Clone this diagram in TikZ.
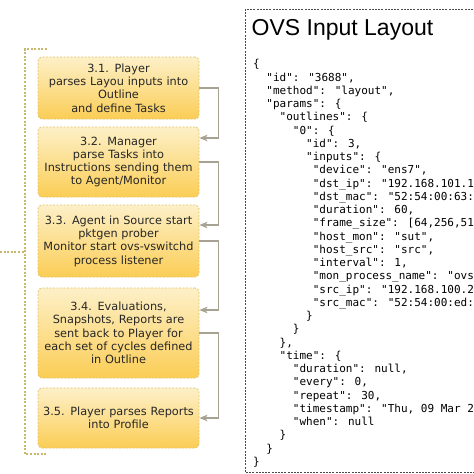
\documentclass[tikz,border=0pt]{standalone}
\usepackage{fontspec}
\setmainfont{DejaVu Sans}
\newfontfamily\boxfont{DejaVu Sans}
\newfontfamily\jsonfont{DejaVu Sans Mono}
\newfontfamily\titlefont{Liberation Sans}
\usetikzlibrary{arrows.meta,calc}
\definecolor{boxtop}{HTML}{FDF0C8}
\definecolor{boxbot}{HTML}{FBCD55}
\definecolor{boxline}{HTML}{E2C46E}
\definecolor{conn}{HTML}{A8A292}
\definecolor{bracket}{HTML}{C8B86C}
\definecolor{panel}{HTML}{4A4A4A}
\definecolor{boxtext}{HTML}{262626}
\newcommand\jl[3]{\node[json] (j#1) at ({253+#2*6.62},{67.75+#1*13.25}) {#3};}
\begin{document}
\begin{tikzpicture}[x=1pt,y=-1pt,
  stepbox/.style={draw=boxline, line width=0.8pt, dash pattern=on 2pt off 1.5pt,
    rounded corners=4pt, top color=boxtop, bottom color=boxbot,
    minimum width=161pt, text width=158pt, align=center, inner sep=0pt,
    text=boxtext, font=\boxfont\fontsize{11.3}{13.3}\selectfont},
  connector/.style={draw=conn, line width=1.4pt, -{Stealth[length=8pt,width=6.5pt,inset=2pt]}},
  bracketline/.style={draw=bracket, line width=2pt, dash pattern=on 2pt off 1.6pt},
  panelline/.style={draw=panel, line width=0.8pt, dash pattern=on 2pt off 1.2pt},
  json/.style={anchor=base west, inner sep=0pt, text=black, font=\jsonfont\fontsize{11}{13}\selectfont}]
\useasboundingbox (0,0) rectangle (474,474);
\fill[white] (0,0) rectangle (474,474);

% left bracket
\coordinate (bt) at (47,49);
\coordinate (btl) at (25,49);
\coordinate (bbl) at (25,454);
\coordinate (bb) at (46,454);
\coordinate (bm) at (25,252);
\coordinate (bo) at (0,252);
\draw[bracketline] (bt) -- (btl) -- (bbl) -- (bb);
\draw[bracketline] (bo) -- (bm);

% step boxes
\node[stepbox, minimum height=62pt] (b1) at (118.5,88) {3.1. Player\\parses Layou inputs into\\Outline\\and define Tasks};
\node[stepbox, minimum height=70pt] (b2) at (118.5,162) {3.2. Manager\\parse Tasks into\\Instructions sending them\\to Agent/Monitor};
\node[stepbox, minimum height=72pt] (b3) at (118.5,241) {3.3. Agent in Source start\\pktgen prober\\Monitor start ovs-vswitchd\\process listener};
\node[stepbox, minimum height=90pt] (b4) at (118.5,333) {3.4. Evaluations,\\Snapshots, Reports are\\sent back to Player for\\each set of cycles defined\\in Outline};
\node[stepbox, minimum height=60pt] (b5) at (118.5,418) {3.5. Player parses Reports\\into Profile};

% connectors
\draw[connector] (b1.east) -- ++(19,0) |- ([yshift=24pt]b2.east);
\draw[connector] (b2.east) -- ++(19,0) |- ([yshift=16pt]b3.east);
\draw[connector] (b3.east) -- ++(19,0) |- ([yshift=23pt]b4.east);
\draw[connector] (b4.east) -- ++(19,0) |- (b5.east);

% right panel
\draw[panelline] (245,9) rectangle (480,472);
\node[anchor=base west, inner sep=0pt, font=\titlefont\fontsize{23}{26}\selectfont] (title) at (251.5,35) {OVS Input Layout};

\jl{0}{0}{\{}
\jl{1}{2}{"id": "3688",}
\jl{2}{2}{"method": "layout",}
\jl{3}{2}{"params": \{}
\jl{4}{4}{"outlines": \{}
\jl{5}{6}{"0": \{}
\jl{6}{8}{"id": 3,}
\jl{7}{8}{"inputs": \{}
\jl{8}{9}{"device": "ens7",}
\jl{9}{9}{"dst\_ip": "192.168.101.1}
\jl{10}{9}{"dst\_mac": "52:54:00:63:}
\jl{11}{9}{"duration": 60,}
\jl{12}{9}{"frame\_size": [64,256,51}
\jl{13}{9}{"host\_mon": "sut",}
\jl{14}{9}{"host\_src": "src",}
\jl{15}{9}{"interval": 1,}
\jl{16}{9}{"mon\_process\_name": "ovs}
\jl{17}{9}{"src\_ip": "192.168.100.2}
\jl{18}{9}{"src\_mac": "52:54:00:ed:}
\jl{19}{8}{\}}
\jl{20}{6}{\}}
\jl{21}{4}{\},}
\jl{22}{4}{"time": \{}
\jl{23}{6}{"duration": null,}
\jl{24}{6}{"every": 0,}
\jl{25}{6}{"repeat": 30,}
\jl{26}{6}{"timestamp": "Thu, 09 Mar 2}
\jl{27}{6}{"when": null}
\jl{28}{4}{\}}
\jl{29}{2}{\}}
\jl{30}{0}{\}}
\end{tikzpicture}
\end{document}
